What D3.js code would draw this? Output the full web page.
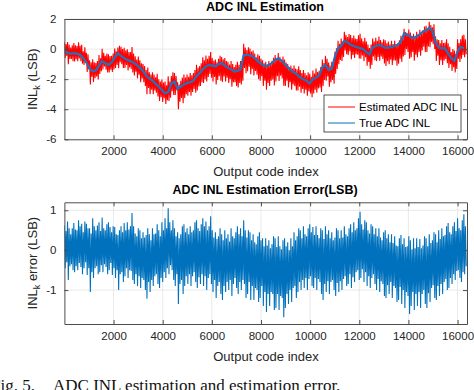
<!DOCTYPE html>
<html>
<head>
<meta charset="utf-8">
<script src="https://cdn.jsdelivr.net/npm/d3@7"></script>
<style>
  body { margin: 0; background: #fff; }
  svg { display: block; font-family: "Liberation Sans", Arial, sans-serif; }
</style>
</head>
<body>
<div id="chart"></div>
<script>
// true INL is read every 128 codes, the error swings every 64 codes
const inlStep = 128;
const errStep = 64;

// true INL (LSB)
const trueInl = [
  -0.15,-0.25,-0.3,-0.27,-0.3,-0.38,-0.6,-0.9,-1.3,-1.48,-1.42,-1.1,-0.8,-0.95,-1.05,-0.9,
  -0.55,-0.28,-0.45,-0.6,-0.72,-0.8,-0.9,-1.05,-1.25,-1.45,-1.78,-1.95,-2.1,-2.3,-2.5,-2.72,
  -2.95,-2.85,-2.3,-2.15,-2.65,-2.5,-2.35,-2.25,-2.2,-2.1,-1.8,-1.6,-1.35,-1.15,-1.05,-1.1,
  -1.15,-1.0,-0.93,-1.1,-1.25,-1.35,-1.5,-1.45,-1.35,-0.4,-0.38,-0.42,-0.5,-0.7,-0.9,-1.05,
  -1.15,-1.05,-0.92,-0.7,-0.62,-0.75,-1.0,-1.2,-1.4,-1.55,-1.7,-1.9,-2.0,-2.1,-2.3,-2.0,
  -1.9,-1.75,-1.2,-1.05,-1.4,-1.3,-0.5,0.05,0.2,0.55,0.45,0.28,0.2,0.12,0.06,0.0,
  -0.2,-0.35,0.1,0.2,0.28,0.2,0.08,0.1,0.15,0.2,0.28,0.5,1.05,0.95,0.85,0.72,
  0.85,1.0,1.15,1.25,1.42,1.2,0.45,0.1,0.05,0.06,-0.3,-0.6,-0.8,-0.15,0.15,0.05
];

// estimation error (LSB): upward swings
const errHi = [
  0.62,0.48,0.72,0.55,0.4,0.55,0.68,0.52,  0.5,0.75,0.6,0.66,0.45,0.72,0.66,0.55,
  0.55,0.42,0.8,0.6,0.5,0.62,0.7,0.48,     0.82,0.55,0.5,0.65,0.7,0.58,0.45,0.6,
  0.58,0.4,0.38,0.5,0.6,0.45,0.68,0.5,     0.7,0.52,0.6,0.93,0.6,0.42,0.35,0.55,
  0.5,0.3,0.45,0.32,0.38,0.55,0.4,0.25,    0.55,0.4,0.42,0.65,0.5,0.35,0.7,0.5,
  0.8,0.55,1.05,0.7,0.5,0.75,0.55,0.35,    0.45,0.3,0.4,0.6,0.65,0.45,0.55,0.4,
  0.6,0.45,0.5,0.7,0.75,0.55,0.48,0.65,    0.8,0.6,0.72,0.5,0.6,0.85,0.5,0.32,
  0.45,0.28,0.35,0.55,0.4,0.25,0.5,0.3,    0.4,0.22,0.55,0.35,0.3,0.45,0.6,0.4,
  0.55,0.35,0.75,0.5,0.32,0.5,0.45,0.25,   0.4,0.2,0.15,0.35,0.45,0.25,0.3,0.1,
  0.3,0.12,0.25,0.05,0.15,0.35,0.3,0.08,   0.35,0.1,0.02,0.25,0.3,0.1,0.2,0.0,
  0.3,0.1,0.45,0.25,0.35,0.55,0.5,0.3,     0.6,0.4,0.35,0.55,0.65,0.45,0.58,0.38,
  0.6,0.38,0.3,0.55,0.5,0.28,0.6,0.4,      0.5,0.3,0.45,0.25,0.32,0.55,0.5,0.3,
  0.5,0.32,0.6,0.4,0.35,0.55,0.65,0.45,    0.7,0.5,0.55,0.8,0.96,0.65,0.52,0.75,
  0.7,0.5,0.42,0.65,0.6,0.4,0.55,0.35,     0.55,0.32,0.25,0.45,0.5,0.3,0.4,0.2,
  0.4,0.18,0.35,0.12,0.1,0.3,0.38,0.15,    0.3,0.08,0.1,0.35,0.25,0.02,0.3,0.05,
  0.3,0.08,0.28,0.05,0.12,0.35,0.3,0.1,    0.4,0.18,0.25,0.45,0.4,0.2,0.5,0.28,
  0.55,0.35,0.38,0.6,0.68,0.45,0.4,0.6,    0.7,0.48,0.8,0.55,0.5,0.75,0.9,0.6
];
// estimation error (LSB): downward swings
const errLo = [
  -0.45,-0.3,-0.75,-0.4,-0.35,-0.5,-0.55,-0.4,    -0.5,-0.32,-0.42,-0.6,-0.45,-0.3,-0.62,-0.45,
  -1.05,-0.55,-0.7,-0.45,-0.4,-0.6,-0.55,-0.38,   -0.55,-0.35,-0.42,-0.6,-0.5,-0.32,-0.62,-0.45,
  -0.7,-0.5,-1.0,-0.6,-0.55,-0.8,-0.65,-0.45,     -0.7,-0.5,-0.52,-0.75,-0.85,-0.6,-0.9,-0.65,
  -0.95,-0.7,-0.75,-1.0,-1.22,-0.8,-1.05,-0.75,   -0.9,-0.65,-0.6,-0.85,-0.95,-0.7,-0.8,-0.55,
  -0.7,-0.45,-0.6,-0.38,-0.5,-0.75,-0.9,-0.6,     -1.35,-0.85,-0.75,-1.1,-0.9,-0.65,-0.85,-0.6,
  -0.9,-0.65,-0.55,-0.8,-0.95,-0.68,-0.85,-0.6,   -0.9,-0.65,-1.0,-0.7,-0.6,-0.85,-1.05,-0.75,
  -1.2,-0.9,-0.8,-1.1,-1.25,-0.9,-1.05,-0.8,      -1.0,-0.75,-1.15,-0.85,-0.7,-0.95,-1.1,-0.8,
  -1.0,-0.75,-0.85,-1.2,-1.1,-0.8,-1.25,-0.9,     -1.25,-0.95,-1.0,-1.3,-1.2,-0.9,-1.4,-1.05,
  -1.55,-1.1,-1.4,-1.05,-1.1,-1.5,-1.45,-1.1,     -1.5,-1.15,-1.2,-1.68,-1.45,-1.1,-1.35,-1.0,
  -1.3,-0.95,-0.9,-1.2,-1.05,-0.8,-1.0,-0.75,     -0.95,-0.7,-1.0,-0.72,-0.65,-0.9,-0.95,-0.7,
  -1.0,-0.72,-0.8,-1.1,-1.25,-0.85,-1.05,-0.78,   -1.1,-0.8,-0.75,-1.0,-1.15,-0.82,-1.05,-0.78,
  -1.0,-0.72,-0.65,-0.9,-0.85,-0.6,-0.95,-0.68,   -0.8,-0.55,-0.5,-0.75,-0.7,-0.48,-0.8,-0.55,
  -0.9,-0.65,-0.95,-0.7,-0.6,-0.85,-1.0,-0.72,    -1.05,-0.78,-0.85,-1.15,-1.2,-0.88,-1.1,-0.8,
  -1.2,-0.9,-0.95,-1.3,-1.25,-0.92,-1.35,-1.0,    -1.45,-1.05,-1.15,-1.6,-1.4,-1.05,-1.5,-1.1,
  -1.4,-1.05,-1.45,-1.1,-1.0,-1.35,-1.45,-1.08,   -1.3,-0.95,-0.88,-1.2,-1.25,-0.9,-1.15,-0.85,
  -1.1,-0.8,-0.72,-1.0,-0.95,-0.7,-0.85,-0.6,     -0.75,-0.52,-0.5,-0.7,-0.8,-0.55,-0.6,-0.4
];

const xTicks = [2000, 4000, 6000, 8000, 10000, 12000, 14000, 16000];
const topYTicks = [2, 0, -2, -4, -6];
const botYTicks = [1, 0, -1];
const legendNames = ["Estimated ADC INL", "True ADC INL"];

const W = 474, H = 390;
const left = 64.4, right = 467;
const red = "#ff0000", blue = "#0072bd";

const svg = d3.select("#chart").append("svg")
  .attr("width", W)
  .attr("height", H);

const x = d3.scaleLinear().domain([0, 16384]).range([left, right]);

// zigzag vertices: upward swing at the sample, downward swing half a step later
const errPts = errHi.flatMap((h, i) => [
  [i * errStep, h],
  [i * errStep + errStep / 2, errLo[i]]
]);
const inlAt = i => trueInl[Math.floor(i * errStep / inlStep)];
const estPts = errHi.flatMap((h, i) => [
  [i * errStep, inlAt(i) + h],
  [i * errStep + errStep / 2, inlAt(i) + errLo[i]]
]);
const truePts = trueInl.map((v, i) => [i * inlStep, v]);

function panel(id, top, bottom, yDomain, yTicks, title, ylabelRest) {
  const y = d3.scaleLinear().domain(yDomain).range([bottom, top]);
  const g = svg.append("g");

  g.append("clipPath").attr("id", id)
    .append("rect").attr("x", left).attr("y", top)
    .attr("width", right - left).attr("height", bottom - top);

  // grid
  g.append("g").selectAll("line").data(xTicks).join("line")
    .attr("x1", d => x(d)).attr("x2", d => x(d))
    .attr("y1", top).attr("y2", bottom)
    .attr("stroke", "#e3e3e3").attr("stroke-width", 0.8);
  g.append("g").selectAll("line").data(yTicks).join("line")
    .attr("x1", left).attr("x2", right)
    .attr("y1", d => y(d)).attr("y2", d => y(d))
    .attr("stroke", "#e3e3e3").attr("stroke-width", 0.8);

  const plot = g.append("g").attr("clip-path", `url(#${id})`);

  // axes with inward ticks, box on all sides
  const fmt = d => String(d);
  const ax = g.append("g").attr("transform", `translate(0,${bottom})`)
    .call(d3.axisBottom(x).tickValues(xTicks).tickFormat(fmt).tickSize(-4).tickPadding(8).tickSizeOuter(0));
  const axTop = g.append("g").attr("transform", `translate(0,${top})`)
    .call(d3.axisTop(x).tickValues(xTicks).tickSize(-4).tickFormat("").tickSizeOuter(0));
  const ay = g.append("g").attr("transform", `translate(${left},0)`)
    .call(d3.axisLeft(y).tickValues(yTicks).tickFormat(fmt).tickSize(-4).tickPadding(8).tickSizeOuter(0));
  const ayR = g.append("g").attr("transform", `translate(${right},0)`)
    .call(d3.axisRight(y).tickValues(yTicks).tickSize(-4).tickFormat("").tickSizeOuter(0));
  [ax, axTop, ay, ayR].forEach(a => {
    a.select(".domain").attr("stroke", "#4d4d4d").attr("stroke-width", 1);
    a.selectAll(".tick line").attr("stroke", "#4d4d4d");
    a.selectAll(".tick text").attr("fill", "#262626").style("font-size", "11.5px");
  });

  g.append("text").attr("x", 265).attr("y", top - 8)
    .attr("text-anchor", "middle").style("font-size", "12.5px").style("font-weight", "bold")
    .attr("fill", "#000").text(title);

  g.append("text").attr("x", 266).attr("y", bottom + 37)
    .attr("text-anchor", "middle").style("font-size", "13px").attr("fill", "#262626")
    .text("Output code index");

  const yl = g.append("text")
    .attr("transform", `translate(37,${(top + bottom) / 2}) rotate(-90)`)
    .attr("text-anchor", "middle").style("font-size", "13px").attr("fill", "#262626");
  yl.append("tspan").text("INL");
  yl.append("tspan").attr("dy", 3).style("font-size", "9px").text("k");
  yl.append("tspan").attr("dy", -3).text(ylabelRest);

  return {plot, y};
}

// top panel
const p1 = panel("clipTop", 19, 139.3, [-6, 2], topYTicks, "ADC INL Estimation", " (LSB)");
const line1 = d3.line().x(d => x(d[0])).y(d => p1.y(d[1]));
p1.plot.append("path").datum(estPts)
  .attr("d", line1).attr("fill", "none").attr("stroke", red).attr("stroke-width", 1.1);
p1.plot.append("path").datum(truePts)
  .attr("d", line1).attr("fill", "none").attr("stroke", "#2a6fba").attr("stroke-width", 2.2);

// legend
const lg = svg.append("g").attr("transform", "translate(324,95)");
lg.append("rect").attr("width", 137).attr("height", 37)
  .attr("fill", "#fff").attr("stroke", "#262626").attr("stroke-width", 0.8);
legendNames.forEach((name, i) => {
  const ly = 12 + i * 16;
  lg.append("line").attr("x1", 4).attr("x2", 31).attr("y1", ly).attr("y2", ly)
    .attr("stroke", i === 0 ? red : blue).attr("stroke-width", 1);
  lg.append("text").attr("x", 35).attr("y", ly + 4)
    .style("font-size", "11.5px").attr("fill", "#000").text(name);
});

// bottom panel
const p2 = panel("clipBot", 202.3, 324, [-1.85, 1.2], botYTicks, "ADC INL Estimation Error(LSB)", " error (LSB)");
const line2 = d3.line().x(d => x(d[0])).y(d => p2.y(d[1]));
p2.plot.append("path").datum(errPts)
  .attr("d", line2).attr("fill", "none").attr("stroke", blue).attr("stroke-width", 1.1);

// caption, cut at the page edge as in the scan
const serif = "'Liberation Serif', 'Times New Roman', serif";
svg.append("text").attr("x", -9).attr("y", 391)
  .style("font-family", serif).style("font-size", "17px").attr("fill", "#111").text("Fig. 5.");
svg.append("text").attr("x", 53).attr("y", 391)
  .style("font-family", serif).style("font-size", "17px").attr("fill", "#111")
  .text("ADC INL estimation and estimation error.");
</script>
</body>
</html>
